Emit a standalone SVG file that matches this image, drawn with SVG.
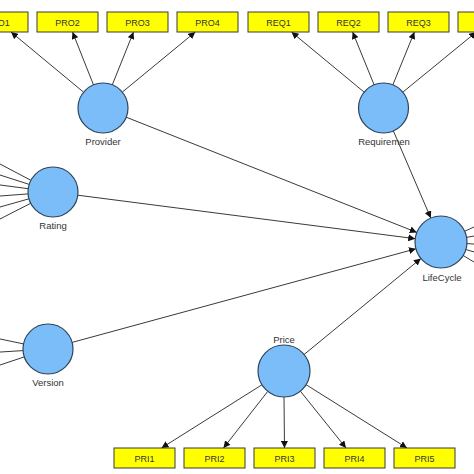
<svg xmlns="http://www.w3.org/2000/svg" width="474" height="474" viewBox="0 0 474 474">
<defs>
<marker id="ah" viewBox="0 0 10 10" refX="10" refY="5" markerWidth="7" markerHeight="7" markerUnits="userSpaceOnUse" orient="auto">
<path d="M0,0 L10,5 L0,10 z" fill="#111"/>
</marker>
<style>
.bg{fill:#fff}
.c{stroke:#3a3a3a;stroke-width:1;fill:none}
.a{marker-end:url(#ah)}
.lv{fill:#7abdf8;stroke:#2e4459;stroke-width:1.2}
.bx{fill:#ffff00;stroke:#3a3a3a;stroke-width:1}
.t{font-family:"Liberation Sans",Arial,sans-serif;font-size:9.5px;fill:#333;text-anchor:middle}
.bt{font-family:"Liberation Sans",Arial,sans-serif;font-size:9px;fill:#333;text-anchor:middle}
</style>
</defs>
<rect class="bg" x="0" y="0" width="474" height="474"/>
<g id="connectors">
<line class="c a" x1="83.6" y1="92.2" x2="11" y2="32"/>
<line class="c a" x1="93.5" y1="84.9" x2="72.5" y2="32"/>
<line class="c a" x1="112.3" y1="84.8" x2="133.5" y2="32"/>
<line class="c a" x1="122.3" y1="92.1" x2="195.3" y2="32"/>
<line class="c a" x1="364.2" y1="92.2" x2="291.5" y2="32"/>
<line class="c a" x1="374.1" y1="84.8" x2="352.6" y2="32"/>
<line class="c a" x1="392.9" y1="84.8" x2="414.4" y2="32"/>
<line class="c a" x1="402.8" y1="92.2" x2="476.3" y2="32"/>
<line class="c a" x1="261.9" y1="384.8" x2="161.5" y2="448"/>
<line class="c a" x1="267.8" y1="391.3" x2="223.5" y2="448"/>
<line class="c a" x1="284" y1="397" x2="284.5" y2="448"/>
<line class="c a" x1="300.4" y1="391.2" x2="346" y2="448"/>
<line class="c a" x1="306.1" y1="384.7" x2="407" y2="448"/>
<line class="c" x1="30.9" y1="180.3" x2="-30" y2="148.2"/>
<line class="c" x1="29.2" y1="184.4" x2="-30" y2="165.4"/>
<line class="c" x1="28.2" y1="188.7" x2="-30" y2="181"/>
<line class="c" x1="28.1" y1="193.9" x2="-30" y2="198.3"/>
<line class="c" x1="29.0" y1="198.8" x2="-30" y2="215.5"/>
<line class="c" x1="30.7" y1="203.3" x2="-30" y2="234.3"/>
<line class="c" x1="23.5" y1="343.9" x2="-30" y2="332.7"/>
<line class="c" x1="23.1" y1="350.6" x2="-30" y2="353.9"/>
<line class="c" x1="24.3" y1="356.9" x2="-30" y2="375"/>
<line class="c" x1="464.7" y1="231.2" x2="500" y2="215.2"/>
<line class="c" x1="466.6" y1="237.4" x2="500" y2="231.3"/>
<line class="c" x1="467" y1="243.6" x2="500" y2="245.6"/>
<line class="c" x1="465.9" y1="249.5" x2="500" y2="259.9"/>
<line class="c" x1="463.2" y1="255.5" x2="500" y2="277.8"/>
<line class="c a" x1="126.2" y1="117.2" x2="416.8" y2="232.4"/>
<line class="c a" x1="393.4" y1="131" x2="430.8" y2="218.1"/>
<line class="c a" x1="77.8" y1="195.2" x2="415.2" y2="238.7"/>
<line class="c a" x1="72.1" y1="342.4" x2="415.9" y2="248.8"/>
<line class="c a" x1="304.1" y1="354.5" x2="420.9" y2="258.5"/>
</g>
<g id="PRO1"><rect class="bx" x="-33" y="12" width="61" height="20"/><text class="bt" x="-2.5" y="25.5">PRO1</text></g>
<g id="PRO2"><rect class="bx" x="37" y="12" width="61" height="20"/><text class="bt" x="67.5" y="25.5">PRO2</text></g>
<g id="PRO3"><rect class="bx" x="107" y="12" width="61" height="20"/><text class="bt" x="137.5" y="25.5">PRO3</text></g>
<g id="PRO4"><rect class="bx" x="177" y="12" width="61" height="20"/><text class="bt" x="207.5" y="25.5">PRO4</text></g>
<g id="REQ1"><rect class="bx" x="248" y="12" width="61" height="20"/><text class="bt" x="278.5" y="25.5">REQ1</text></g>
<g id="REQ2"><rect class="bx" x="318" y="12" width="61" height="20"/><text class="bt" x="348.5" y="25.5">REQ2</text></g>
<g id="REQ3"><rect class="bx" x="388" y="12" width="61" height="20"/><text class="bt" x="418.5" y="25.5">REQ3</text></g>
<g id="REQ4"><rect class="bx" x="458" y="12" width="61" height="20"/></g>
<g id="PRI1"><rect class="bx" x="114" y="448" width="61" height="20"/><text class="bt" x="144.5" y="461.5">PRI1</text></g>
<g id="PRI2"><rect class="bx" x="184" y="448" width="61" height="20"/><text class="bt" x="214.5" y="461.5">PRI2</text></g>
<g id="PRI3"><rect class="bx" x="254" y="448" width="61" height="20"/><text class="bt" x="284.5" y="461.5">PRI3</text></g>
<g id="PRI4"><rect class="bx" x="324" y="448" width="61" height="20"/><text class="bt" x="354.5" y="461.5">PRI4</text></g>
<g id="PRI5"><rect class="bx" x="394" y="448" width="61" height="20"/><text class="bt" x="424.5" y="461.5">PRI5</text></g>
<g id="Provider"><circle class="lv" cx="103" cy="108" r="25"/><text class="t" x="103" y="145">Provider</text></g>
<g id="Requirement"><circle class="lv" cx="383.5" cy="108" r="25"/><text class="t" x="384" y="145">Requiremen</text></g>
<g id="Rating"><circle class="lv" cx="53" cy="192" r="25"/><text class="t" x="53" y="229">Rating</text></g>
<g id="Version"><circle class="lv" cx="48" cy="349" r="25"/><text class="t" x="48" y="386">Version</text></g>
<g id="LifeCycle"><circle class="lv" cx="441" cy="242" r="26"/><text class="t" x="442" y="281">LifeCycle</text></g>
<g id="Price"><circle class="lv" cx="284" cy="371" r="26"/><text class="t" x="284" y="343">Price</text></g>
</svg>
